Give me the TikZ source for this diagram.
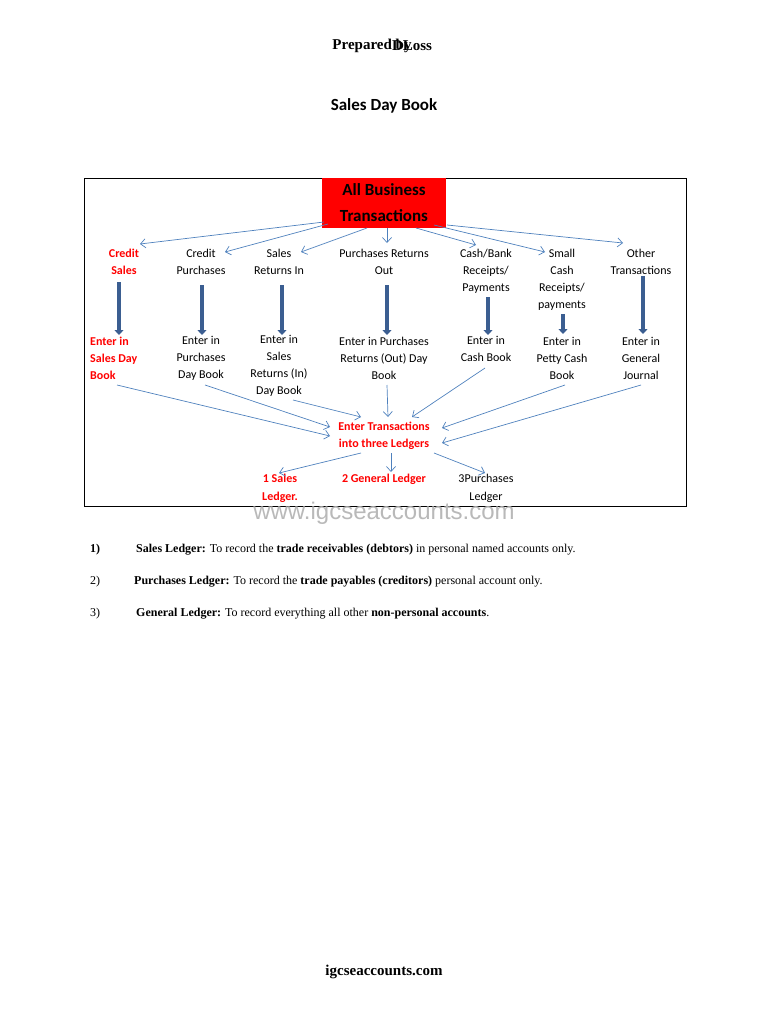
\documentclass[tikz,border=0pt]{standalone}
\usepackage{fontspec}
\setmainfont{Carlito}
\newfontfamily\tnr{Liberation Serif}
\usetikzlibrary{arrows.meta}
\definecolor{thin}{HTML}{4F81BD}
\definecolor{thick}{HTML}{3B5E91}
\definecolor{hred}{HTML}{FF0000}
\begin{document}
\begin{tikzpicture}[x=1pt,y=-1pt,
 lbl/.style={align=center,font=\fontsize{12}{17}\selectfont,inner sep=1pt},
 rl/.style={lbl,text=hred,font=\fontsize{12}{17}\selectfont\bfseries},
 ta/.style={draw=thin,line width=0.7pt,-{Straight Barb[length=5pt,width=9pt]}},
 tk/.style={draw=thick,line width=4pt,-{Triangle[length=5pt,width=9pt]}},
 li/.style={anchor=base west,font=\tnr\fontsize{12}{14}\selectfont,inner sep=0}]
\useasboundingbox (0,0) rectangle (768,1024);
\node[font=\tnr\bfseries\fontsize{15}{17}\selectfont] (hdrA) at (372,46) {Prepared by};
\node[font=\tnr\bfseries\fontsize{15}{17}\selectfont] (hdrB) at (412,46) {DLoss};
\node[font=\bfseries\fontsize{17}{20}\selectfont] (title) at (384,106) {Sales Day Book};
\draw[line width=0.8pt] (84,178) rectangle (686,506);
\node[fill=hred,minimum width=124,minimum height=50,align=center,inner sep=0,
 font=\bfseries\fontsize{17}{26}\selectfont] (top) at (384,203) {All Business\\Transactions};
% row 1
\node[rl] (a1) at (124,262) {Credit\\Sales};
\node[lbl] (b1) at (201,262) {Credit\\Purchases};
\node[lbl] (c1) at (279,262) {Sales\\Returns In};
\node[lbl] (d1) at (384,262) {Purchases Returns\\Out};
\node[lbl] (e1) at (486,271) {Cash/Bank\\Receipts/\\Payments};
\node[lbl] (f1) at (562,280) {Small\\Cash\\Receipts/\\payments};
\node[lbl] (g1) at (641,262) {Other\\Transactions};
% row 2
\node[rl,align=left,anchor=west] (a2) at (89,358) {Enter in\\Sales Day\\Book};
\node[lbl] (b2) at (201,358) {Enter in\\Purchases\\Day Book};
\node[lbl] (c2) at (279,366) {Enter in\\Sales\\Returns (In)\\Day Book};
\node[lbl] (d2) at (384,358) {Enter in Purchases\\Returns (Out) Day\\Book};
\node[lbl] (e2) at (486,349) {Enter in\\Cash Book};
\node[lbl] (f2) at (562,358) {Enter in\\Petty Cash\\Book};
\node[lbl] (g2) at (641,358) {Enter in\\General\\Journal};
\node[rl] (mid) at (384,436) {Enter Transactions\\into three Ledgers};
\node[rl,font=\fontsize{12}{18}\selectfont\bfseries] (l1) at (280,488) {1 Sales\\Ledger.};
\node[rl] (l2) at (384,479) {2 General Ledger};
\node[lbl,font=\fontsize{12}{18}\selectfont] (l3) at (486,488) {3Purchases\\Ledger};
\node[text=gray!55,font=\fontspec{Liberation Sans}\fontsize{24}{26}\selectfont] (wm) at (384,513) {www.igcseaccounts.com};
% top arrows
\draw[ta] (324,222) -- (140,244);
\draw[ta] (328,224) -- (225,252);
\draw[ta] (367,228) -- (301,252);
\draw[ta] (387,228) -- (387,243);
\draw[ta] (416,228) -- (476,245);
\draw[ta] (434,225) -- (545,252);
\draw[ta] (447,225) -- (623,243);
% thick arrows
\draw[tk] (119,282) -- (119,335);
\draw[tk] (202,285) -- (202,335);
\draw[tk] (282,285) -- (282,335);
\draw[tk] (387,285) -- (387,335);
\draw[tk] (488,297) -- (488,335);
\draw[tk] (563,314) -- (563,334);
\draw[tk] (643,276) -- (643,334);
% to middle
\draw[ta] (117,385) -- (330,436);
\draw[ta] (205,385) -- (330,427);
\draw[ta] (293,400) -- (361,417);
\draw[ta] (387,385) -- (388,417);
\draw[ta] (485,368) -- (412,417);
\draw[ta] (565,385) -- (442,428);
\draw[ta] (641,385) -- (442,443);
% to ledgers
\draw[ta] (361,453) -- (279,473);
\draw[ta] (391,453) -- (391,472);
\draw[ta] (434,453) -- (485,473);
% list
\node[li,font=\tnr\bfseries\fontsize{12}{14}\selectfont] (n1) at (90,552) {1)};
\node[li] (s1) at (136,552) {\textbf{Sales Ledger:} To record the \textbf{trade receivables (debtors)} in personal named accounts only.};
\node[li] (n2) at (90,584) {2)};
\node[li] (s2) at (134,584) {\textbf{Purchases Ledger:} To record the \textbf{trade payables (creditors)} personal account only.};
\node[li] (n3) at (90,616) {3)};
\node[li] (s3) at (136,616) {\textbf{General Ledger:} To record everything all other \textbf{non-personal accounts}.};
\node[font=\tnr\bfseries\fontsize{15}{17}\selectfont] (foot) at (384,972) {igcseaccounts.com};
\end{tikzpicture}
\end{document}
